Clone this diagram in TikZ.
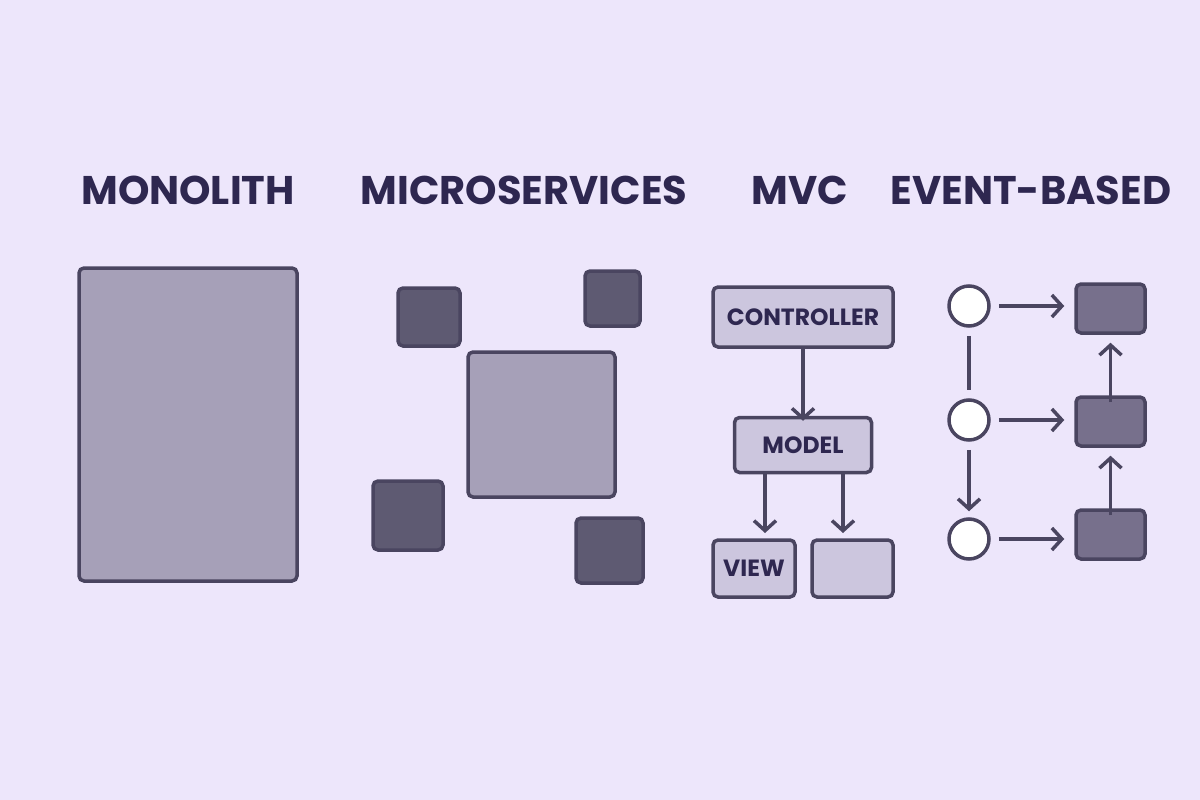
\documentclass[tikz,border=0pt]{standalone}
\usepackage{fontspec}
\setmainfont{Poppins}
\usetikzlibrary{arrows.meta}
\definecolor{bg}{HTML}{EDE6FB}
\definecolor{ink}{HTML}{2E2750}
\definecolor{edge}{HTML}{4A4560}
\definecolor{mono}{HTML}{A6A0B8}
\definecolor{dark}{HTML}{5E5A72}
\definecolor{light}{HTML}{CCC6DE}
\definecolor{ev}{HTML}{77708C}
\begin{document}
\begin{tikzpicture}[x=1pt,y=-1pt,
  box/.style={draw=edge,line width=3.5pt,rounded corners=5pt},
  title/.style={text=ink,font=\fontsize{40}{44}\selectfont\bfseries},
  lbl/.style={text=ink,font=\fontsize{23.5}{26}\selectfont\bfseries},
  arr/.style={draw=edge,line width=3.5pt,-{Straight Barb[length=10pt,width=22pt,line width=3.5pt]}},
  ln/.style={draw=edge,line width=3.5pt}]
\fill[bg] (0,0) rectangle (1200,800);
\node[title] (t1) at (188,190) {MONOLITH};
\node[title] (t2) at (524,190) {MICROSERVICES};
\node[title] (t3) at (800,190) {MVC};
\node[title] (t4) at (1031,190) {EVENT-BASED};
% monolith
\node[box,fill=mono,minimum width=218pt,minimum height=313pt] (mono) at (188,424.5) {};
% microservices
\node[box,fill=mono,minimum width=147pt,minimum height=145pt] (core) at (541.5,424.5) {};
\node[box,fill=dark,minimum width=62pt,minimum height=58pt] (s1) at (429,317) {};
\node[box,fill=dark,minimum width=55pt,minimum height=55pt] (s2) at (612.5,298.5) {};
\node[box,fill=dark,minimum width=70pt,minimum height=69pt] (s3) at (408,515.5) {};
\node[box,fill=dark,minimum width=67pt,minimum height=65pt] (s4) at (609.5,550.5) {};
% MVC
\node[box,fill=light,minimum width=180pt,minimum height=60pt,lbl] (ctrl) at (803,317) {CONTROLLER};
\node[box,fill=light,minimum width=137pt,minimum height=55pt,lbl] (model) at (803,445) {MODEL};
\node[box,fill=light,minimum width=82pt,minimum height=57pt,lbl] (view) at (754,568.5) {VIEW};
\node[box,fill=light,minimum width=81pt,minimum height=57pt] (other) at (852.5,568.5) {};
\draw[arr] (ctrl.south) -- ([yshift=-5pt]model.north);
\draw[arr] (765,473) -- (765,533);
\draw[arr] (843,473) -- (843,533);
% event
\foreach \i/\y in {1/306,2/420,3/539}{
  \node[draw=edge,line width=3.5pt,fill=white,circle,minimum size=40pt,inner sep=0pt] (c\i) at (969,\y) {};
}
\foreach \i/\y in {1/308.5,2/421.5,3/534.5}{
  \node[box,fill=ev,minimum width=69pt,minimum height=49pt] (b\i) at (1110.5,\y) {};
}
\foreach \i in {1,2,3}{
  \draw[arr] ([xshift=8pt]c\i.east) -- ([xshift=-10pt]c\i.east -| b\i.west);
}
\draw[ln] ([yshift=-8pt]c1.south) -- ([yshift=8pt]c2.north);
\draw[arr] ([yshift=-8pt]c2.south) -- ([yshift=6pt]c3.north);
\draw[arr] ([yshift=-7pt]b3.north) -- ([yshift=-8pt]b2.south);
\draw[arr] ([yshift=-7pt]b2.north) -- ([yshift=-8pt]b1.south);
\end{tikzpicture}
\end{document}
